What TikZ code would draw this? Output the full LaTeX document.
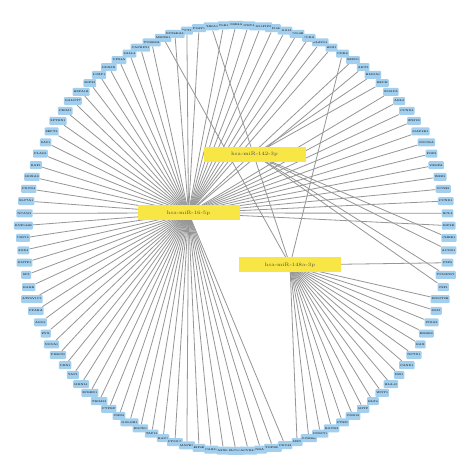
\documentclass[tikz,border=0pt]{standalone}
\usepackage{amsmath}
\usepackage{tikz}

\definecolor{genefill}{RGB}{163,207,238}
\definecolor{mirfill}{RGB}{248,229,70}
\definecolor{linkgray}{RGB}{150,150,150}

\pgfdeclarelayer{back}
\pgfdeclarelayer{bg}
\pgfsetlayers{back,bg,main}

\tikzset{
  gene/.style={rectangle,rounded corners=1pt,fill=genefill,inner sep=1pt,
    minimum width=10pt,minimum height=8pt,text=black!85,
    font=\fontsize{2.6}{3}\selectfont\bfseries},
  mir/.style={rectangle,fill=mirfill,minimum width=102pt,minimum height=15pt,
    inner sep=0pt,text=black!70,font=\fontsize{5}{6}\selectfont},
  link/.style={draw=linkgray,line width=0.8pt}
}

\begin{document}
\begin{tikzpicture}[x=1pt,y=1pt]
	\useasboundingbox (0,0) rectangle (474,474);
	\begin{pgfonlayer}{back}
		\fill[white] (0,0) rectangle (474,474);
	\end{pgfonlayer}

	% miRNA hubs
	\node[mir] (m142) at (254.5,319.5) {hsa-miR-142-3p};
	\node[mir] (m16)  at (188.5,261)   {hsa-miR-16-5p};
	\node[mir] (m148) at (290,209)     {hsa-miR-148a-3p};

	% target genes round the circle
	\begin{scope}[shift={(236,236)}]
		\foreach \g [count=\i from 0] in {CHEK1,IGF2R,BCL2,CCND1,CCNE1,WEE1,VEGFA,FGF2,CDC25A,MAP2K1,
			ZNF23,CCND3,ARL2,SMAD5,RECK,HMGA1,AKT3,SESN1,CDK6,BMI1,
			ELAVL1,PURA,CUL4B,NAA15,ZNF148,RAB11FIP2,SPRY4,UBE4A,TLK1,PHKA1,
			PSAT1,EPT1,RPS6KA3,MKNK1,TUBB2A,CAPRIN1,SALL4,VPS4A,DDX3X,LUZP1,
			KIF23,HSPA1B,GALNT7,CRIM1,SPTBN1,SEPT3,SAV1,PLAG1,RAF1,HOXA9,
			PDCD4,SLC7A1,NCAM1,RNF144B,USP15,SOX4,DMTF1,SP3,RARB,ATP6V1C1,
			PPARA,AGO1,ZYX,NOVA1,PRKCD,UBN1,YAP1,MBNL1,SPRED1,TRIM33,
			PTPRF,CHD9,GOLGB1,ROCK1,TAF15,RAC1,PPM1A,MAPK3,EIF4E,CAB39,
			ASXL2,SLC1A5,ACVR2A,NRAS,TGFBR2,CDC42,MET,CCKBR,DNMT1,ROCK2,
			PTEN,CDK19,MITF,KLF4,WNT1,HLA-G,IRS1,CAND1,NPTX1,BAX,
			ERBB3,ITGA5,SOS1,DNMT3B,CSF1,TP53INP1,USP6,ACVR1}
			\node[gene] (g\i) at ({\i*10/3}:213) {\g};
	\end{scope}

	% interactions
	\begin{pgfonlayer}{bg}
		\foreach \i in {0,14,15,104,105,107}
			\draw[link] (m142.center) -- (g\i);
		\foreach \i in {1,...,13,16,17,19,20,...,28,30,31,32,34,35,...,85}
			\draw[link] (m16.center) -- (g\i);
		\foreach \i in {18,29,33,86,87,...,103,106}
			\draw[link] (m148.center) -- (g\i);
	\end{pgfonlayer}
\end{tikzpicture}
\end{document}
